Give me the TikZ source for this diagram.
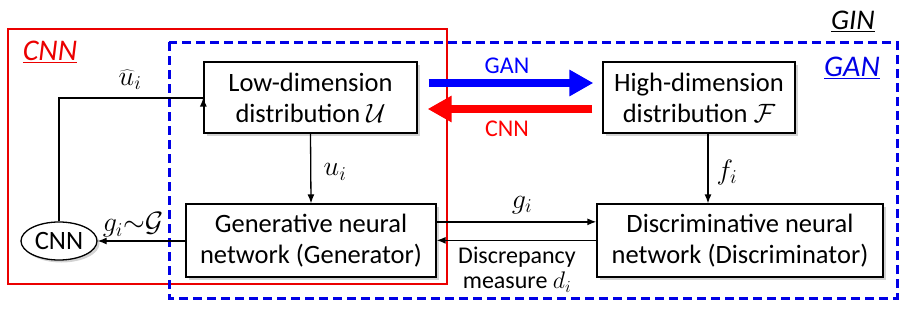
\documentclass[tikz,border=0pt]{standalone}
\usepackage{fix-cm}
\usepackage{fontspec}
\setmainfont{Carlito}
\usetikzlibrary{arrows.meta,shapes.geometric,shadows,calc}
\definecolor{cnnred}{RGB}{235,0,0}
\definecolor{ganblue}{RGB}{0,0,230}
\definecolor{arrred}{RGB}{255,0,0}
\definecolor{arrblue}{RGB}{0,0,255}
\tikzset{
  box/.style={draw=black, line width=1.3pt, fill=white, align=center, inner sep=0pt,
    font=\fontsize{26.5}{31}\selectfont,
    drop shadow={opacity=0.35, shadow xshift=2.5pt, shadow yshift=-2.5pt}},
  conn/.style={line width=1.3pt, -{Latex[length=9pt,width=7pt]}},
  lbl/.style={font=\fontsize{24}{26}\selectfont, inner sep=0pt},
  mlbl/.style={font=\fontsize{28}{30}\selectfont, inner sep=0pt},
  bigarrow/.style={line width=8pt, -{Triangle[length=24pt,width=25pt]}},
  grp/.style={font=\fontsize{30}{34}\selectfont\itshape, inner sep=0pt}
}
\begin{document}
\begin{tikzpicture}[x=1pt,y=-1pt]
\useasboundingbox (0,0) rectangle (904,308);
% group frames
\draw[cnnred, line width=2pt] (8,29) rectangle (447,284);
\draw[ganblue, line width=3pt, dash pattern=on 9pt off 5pt] (169,42) rectangle (897,298);
% group labels
\node[grp, text=cnnred] (lcnn) at (50,52) {\underline{CNN}};
\node[grp, text=black, font=\fontsize{28.5}{32}\selectfont\itshape] (lgin) at (853,21) {\underline{GIN}};
\node[grp, text=ganblue] (lgan) at (852,68) {\underline{GAN}};
% boxes
\node[box, minimum width=213pt, minimum height=71pt] (ld) at (310.5,97.5) {Low-dimension\\distribution $\mathcal{U}$};
\node[box, minimum width=192pt, minimum height=71pt] (hd) at (699,97.5) {High-dimension\\distribution $\mathcal{F}$};
\node[box, minimum width=250pt, minimum height=73pt] (gen) at (311,240.5) {Generative neural\\network (Generator)};
\node[box, minimum width=286pt, minimum height=73pt] (dis) at (740,240.5) {Discriminative neural\\network (Discriminator)};
\node[box, ellipse, minimum width=76pt, minimum height=38pt] (cnn) at (59,241) {CNN};
% coordinates
\coordinate (fx) at (708,0);
\coordinate (top) at (0,98);
% big arrows
\draw[bigarrow, arrblue] ([xshift=11pt,yshift=14.5pt]ld.east) -- ([xshift=-9pt,yshift=14.5pt]hd.west);
\draw[bigarrow, arrred] ([xshift=-10pt,yshift=-11.5pt]hd.west) -- ([xshift=10pt,yshift=-11.5pt]ld.east);
\node[lbl, text=arrblue] (lganarr) at (507,66) {GAN};
\node[lbl, text=arrred] (lcnnarr) at (507,129) {CNN};
% connectors
\draw[conn] (cnn.north) |- (top -| ld.west) -- (ld.west);
\node[mlbl] (luhat) at (130,80) {$\widehat{u}_i$};
\draw[conn] (ld.south) -- (gen.north);
\node[mlbl] (lu) at (335,172) {$u_i$};
\draw[conn] (hd.south -| fx) -- (dis.north -| fx);
\node[mlbl] (lf) at (727,172) {$f_i$};
\draw[conn] ([yshift=-18.5pt]gen.north east) -- ([yshift=-18.5pt]gen.north east -| dis.west);
\node[mlbl] (lg) at (522,205) {$g_i$};
\draw[conn] ([yshift=-37pt]dis.north west) -- ([yshift=-37pt]dis.north west -| gen.east);
\node[lbl, align=center, font=\fontsize{24}{25}\selectfont] (ld2) at (517,270) {Discrepancy\\measure $d_i$};
\draw[conn] (gen.west |- cnn.east) -- (cnn.east);
\node[mlbl] (lgg) at (133,225) {$g_i{\sim}\mathcal{G}$};
\end{tikzpicture}
\end{document}
